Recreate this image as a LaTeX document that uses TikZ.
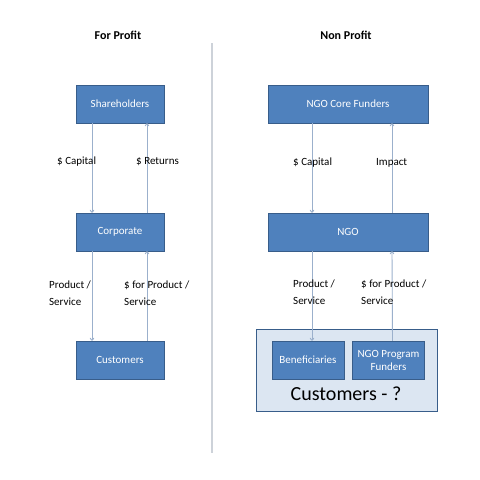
\documentclass[tikz,border=0pt]{standalone}
\usepackage{fontspec}
\setmainfont{Carlito}
\usetikzlibrary{arrows.meta}
\definecolor{boxblue}{HTML}{4F81BD}
\definecolor{boxedge}{HTML}{385D8A}
\definecolor{flowblue}{HTML}{9BB0CC}
\definecolor{paleblue}{HTML}{DCE6F2}
\definecolor{divgray}{HTML}{CDD2D9}
\tikzset{
  unit/.style={draw=boxedge, fill=boxblue, text=white, minimum height=38pt,
    inner sep=0pt, font=\fontsize{11}{13}\selectfont, align=center},
  flow/.style={draw=flowblue, line width=0.9pt, -{To[length=3pt,width=4.5pt]}},
  lbl/.style={anchor=west, align=left, inner sep=0pt, font=\fontsize{11}{17}\selectfont},
  head/.style={font=\bfseries\fontsize{12}{14}\selectfont}
}
\begin{document}
\begin{tikzpicture}[x=1pt,y=-1pt]
\useasboundingbox (0,0) rectangle (480,480);
% ---- divider ----
\draw[divgray, line width=1.2pt] (212,43) -- (212,453);
% ---- left panel: for profit ----
\node[head] (fp) at (118,35) {For Profit};
\node[unit, minimum width=88pt] (sh) at (120,104) {Shareholders};
\node[unit, minimum width=88pt] (corp) at (120,232) {Corporate};
\node[unit, minimum width=88pt] (cust) at (120,360) {Customers};
\draw[flow] ([xshift=-28pt]sh.south) -- ([xshift=-28pt]corp.north);
\draw[flow] ([xshift=27pt]corp.north) -- ([xshift=27pt]sh.south);
\draw[flow] ([xshift=-28pt]corp.south) -- ([xshift=-28pt]cust.north);
\draw[flow] ([xshift=27pt]cust.north) -- ([xshift=27pt]corp.south);
\node[lbl] (capl) at (57,162) {\$ Capital};
\node[lbl] (ret) at (136,162) {\$ Returns};
\node[lbl] (prodl) at (49,293) {Product /\\Service};
\node[lbl] (payl) at (124,293) {\$ for Product /\\Service};
% ---- right panel: non profit ----
\node[head] (np) at (346,35) {Non Profit};
\node[unit, minimum width=160pt] (funders) at (348,104) {NGO Core Funders};
\node[unit, minimum width=160pt] (ngo) at (348,232) {NGO};
\node[draw=boxedge, fill=paleblue, line width=0.9pt, minimum width=181pt,
  minimum height=82pt, inner sep=0pt] (outer) at (346.5,370) {};
\node[unit, minimum width=72pt] (benef) at (308,360) {Beneficiaries};
\node[unit, minimum width=72pt, font=\fontsize{11}{13}\selectfont] (progf) at (388.5,360) {NGO Program\\Funders};
\node[font=\fontsize{20}{22}\selectfont] (custq) at (346,394) {Customers - ?};
\draw[flow] ([xshift=-36pt]funders.south) -- ([xshift=-36pt]ngo.north);
\draw[flow] ([xshift=44pt]ngo.north) -- ([xshift=44pt]funders.south);
\draw[flow] ([xshift=-36pt]ngo.south) -- ([xshift=-36pt]ngo.south |- benef.north);
\draw[flow] ([xshift=4pt]progf.north) -- ([xshift=44pt]ngo.south);
\node[lbl] (capr) at (293,163) {\$ Capital};
\node[lbl] (imp) at (376,163) {Impact};
\node[lbl] (prodr) at (293,292) {Product /\\Service};
\node[lbl] (payr) at (361,292) {\$ for Product /\\Service};
\end{tikzpicture}
\end{document}
